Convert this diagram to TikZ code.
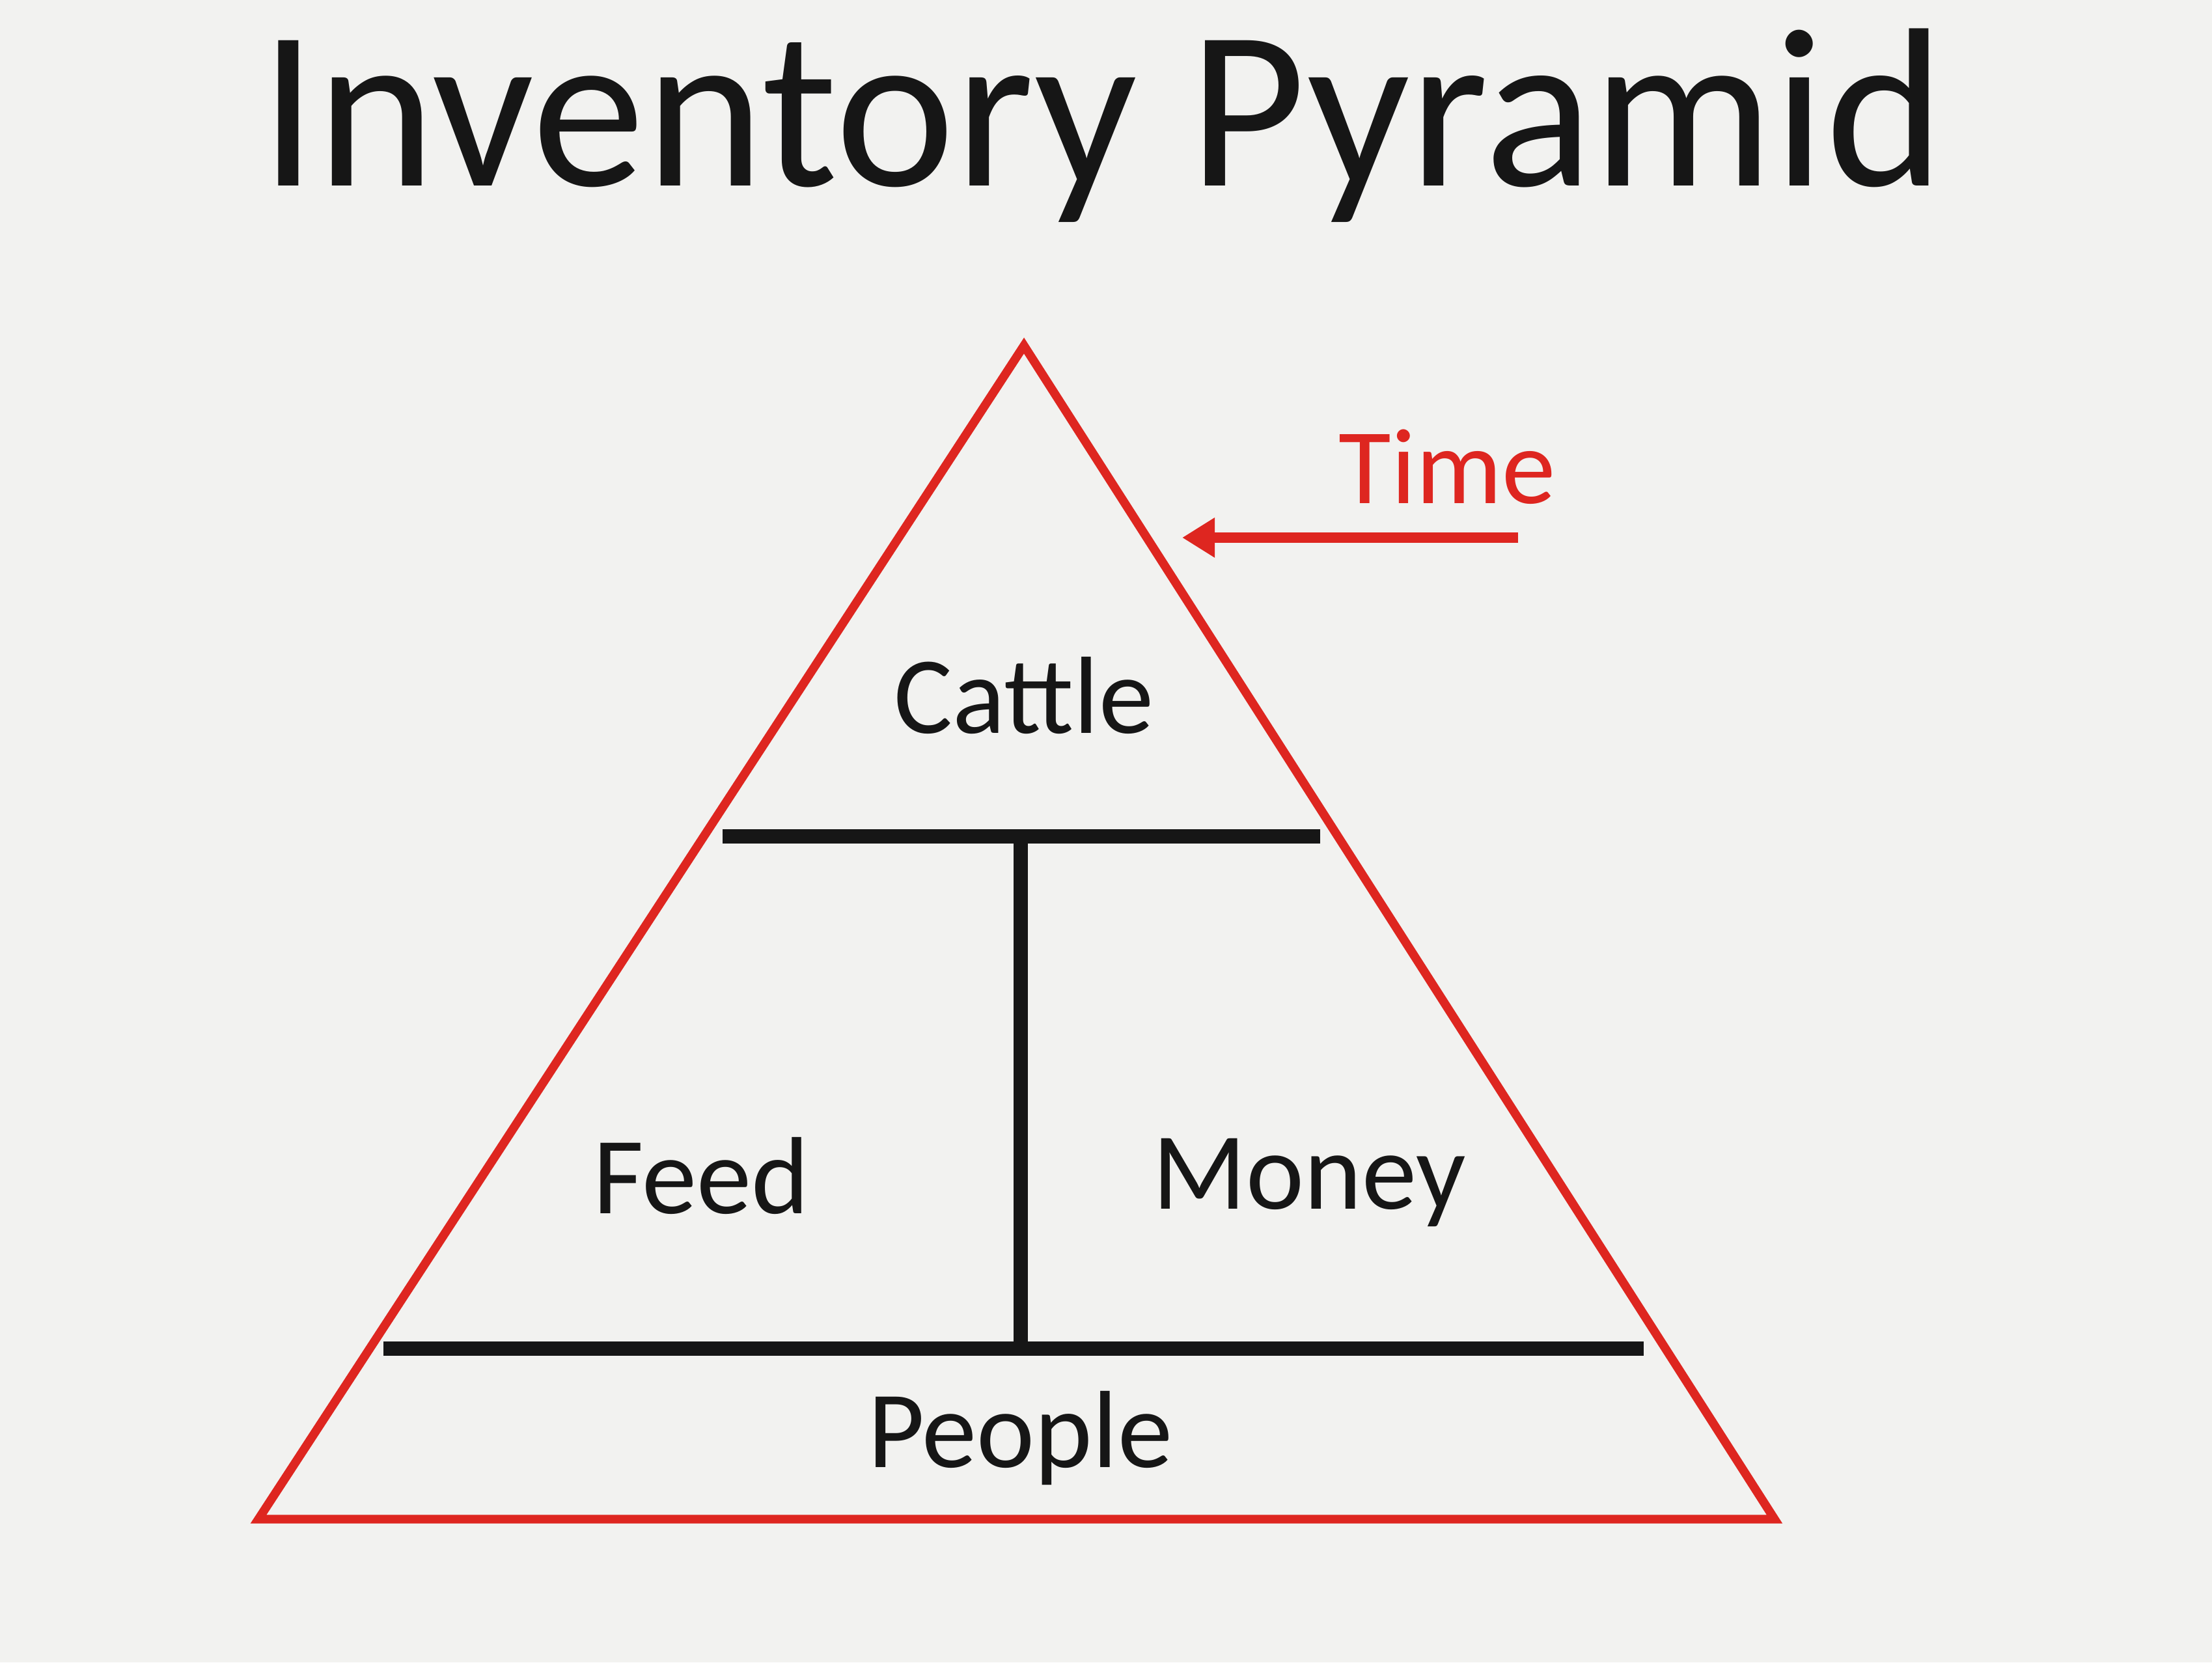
\documentclass[tikz,border=0pt]{standalone}
\usepackage{fontspec}
\setmainfont{Carlito}
\usetikzlibrary{arrows.meta}
\definecolor{pyrred}{RGB}{222,38,32}
\definecolor{pyrbg}{RGB}{242,242,240}
\definecolor{pyrink}{RGB}{22,22,22}
\begin{document}
\begin{tikzpicture}[
	redline/.style={pyrred,line width=3.8pt,line join=miter},
	bar/.style={pyrink,line width=6pt},
	label/.style={anchor=base,text=pyrink,font=\fontsize{48pt}{56pt}\selectfont}]
				% 背景
				\fill[pyrbg] (0,0) rectangle (33.98,25.54);
				\useasboundingbox (0,0) rectangle (33.98,25.54);
				% 标题
				\node[anchor=base,text=pyrink,font=\fontsize{99pt}{107pt}\selectfont] (title) at (16.93,22.68) {Inventory Pyramid};
				% 绘制三角形
				\coordinate (apex) at (15.73,20.23);
				\coordinate (bl) at (3.97,2.2);
				\coordinate (br) at (27.26,2.2);
				\draw[redline] (apex) -- (bl) -- (br) -- cycle;
				% 分隔线
				\draw[bar] (11.10,12.69) -- (20.28,12.69);
				\draw[bar] (5.89,4.82) -- (25.25,4.82);
				\draw[bar] (15.68,12.69) -- (15.68,4.82);
				% 标记各层
				\node[label] (cattle) at (15.73,14.27) {Cattle};
				\node[label] (feed) at (10.77,6.90) {Feed};
				\node[label] (money) at (20.11,6.97) {Money};
				\node[label] (people) at (15.67,3.00) {People};
				% 时间箭头
				\node[anchor=base,text=pyrred,font=\fontsize{47pt}{54pt}\selectfont] (time) at (22.23,17.80) {Time};
				\coordinate (tstart) at (23.32,17.28);
				\coordinate (tend) at (18.16,17.28);
				\draw[pyrred,line width=4.3pt,-{Triangle[length=0.5cm,width=0.58cm]}] (tstart) -- (tend);
			\end{tikzpicture}
\end{document}
